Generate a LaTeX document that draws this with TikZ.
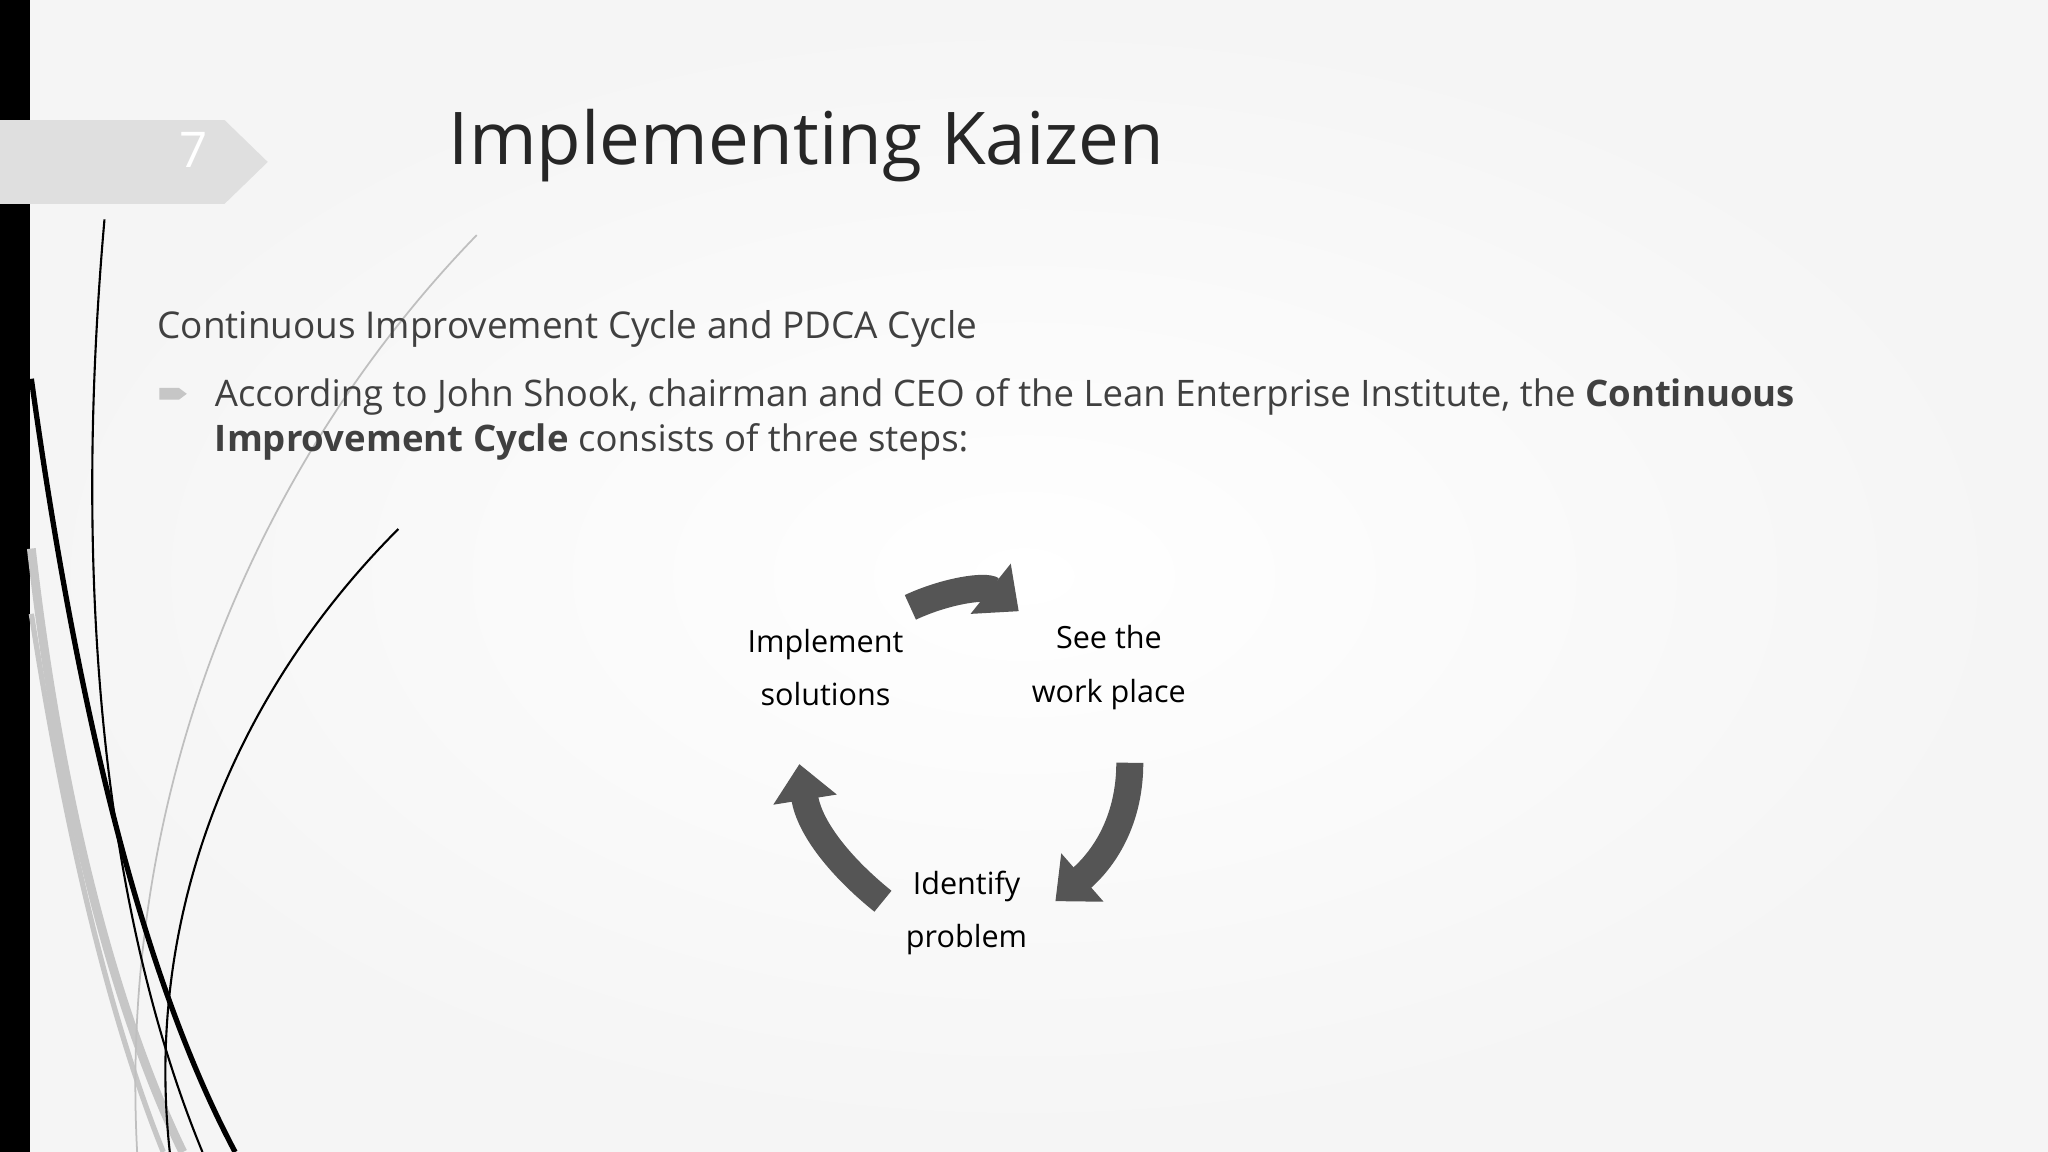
\documentclass[tikz,border=0pt]{standalone}
\usepackage{fontspec}
\setmainfont{Open Sans}
\usetikzlibrary{arrows.meta}
\definecolor{txt}{HTML}{404040}
\definecolor{arr}{HTML}{555555}
\begin{document}
\begin{tikzpicture}[x=0.013061cm,y=-0.013061cm,
  cyc/.style={draw=arr,line width=0.27cm,-{Triangle[width=0.62cm,length=0.36cm]}},
  lbl/.style={font=\fontsize{8.7pt}{15.2pt}\selectfont,text=black,align=center},
  deco/.style={line width=0.6pt}]
\useasboundingbox (0,0) rectangle (1568,882);
\shade[inner color=white,outer color=gray!8] (0,0) rectangle (1568,882);
\fill[black] (0,0) rectangle (23,882);
% decorative curves
\draw[deco,gray!45,line width=2.5pt] (24,420) .. controls (50,650) and (100,800) .. (140,882);
\draw[deco,gray!45,line width=1.5pt] (24,470) .. controls (60,700) and (100,820) .. (125,882);
\draw[deco,gray!50,line width=0.5pt] (365,180) .. controls (200,350) and (90,600) .. (105,882);
\draw[deco,black] (80,168) .. controls (55,450) and (80,700) .. (155,882);
\draw[deco,black,line width=1.5pt] (24,290) .. controls (60,550) and (110,750) .. (180,882);
\draw[deco,black] (305,405) .. controls (180,530) and (110,700) .. (130,882);
% tab
\fill[gray!25] (0,92) -- (172,92) -- (205,124) -- (172,156) -- (0,156) -- cycle;
\node[text=white,font=\fontsize{14pt}{16pt}\selectfont] (num) at (148,115) {7};
\node[anchor=base west,inner sep=0,text=black!85,font=\fontsize{20.7pt}{24pt}\selectfont] (title) at (343,126) {Implementing Kaizen};
\node[anchor=base west,inner sep=0,text=txt,font=\fontsize{10.5pt}{13pt}\selectfont] (sub) at (120,259) {Continuous Improvement Cycle and PDCA Cycle};
\fill[gray!45] (122,297) -- (137,297) -- (143,301.5) -- (137,306) -- (122,306) -- cycle;
\node[anchor=base west,inner sep=0,text=txt,font=\fontsize{10.4pt}{13pt}\selectfont] (b1) at (164,311) {According to John Shook, chairman and CEO of the Lean Enterprise Institute, the \textbf{Continuous}};
\node[anchor=base west,inner sep=0,text=txt,font=\fontsize{10.4pt}{13pt}\selectfont] (b2) at (164,346) {\textbf{Improvement Cycle} consists of three steps:};
% cycle
\node[lbl] (impl) at (632,511) {Implement\\solutions};
\node[lbl] (see) at (849,511) {See the\\work place};
\node[lbl] (ident) at (740,699) {Identify\\problem};
\draw[cyc] (697,465) .. controls (725,452) and (755,448) .. (780,468);
\draw[cyc] (865,584) .. controls (865,625) and (848,655) .. (808,690);
\draw[cyc] (676,690) .. controls (645,665) and (620,635) .. (612,585);
\end{tikzpicture}
\end{document}
